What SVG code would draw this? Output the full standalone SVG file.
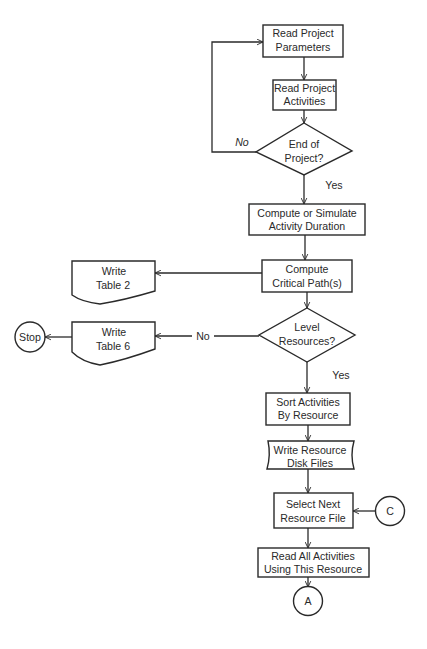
<svg xmlns="http://www.w3.org/2000/svg" width="427" height="649" viewBox="0 0 427 649">
<style>
.s{fill:#fff;stroke:#2a2a2a;stroke-width:1.4}
.c{fill:none;stroke:#2a2a2a;stroke-width:1.3}
text{font-family:"Liberation Sans","DejaVu Sans",sans-serif;font-size:10.6px;fill:#2a2a2a;text-anchor:middle}
.i{font-style:italic}
</style>
<defs>
<marker id="a" viewBox="0 0 10 10" refX="9.5" refY="5" markerWidth="7" markerHeight="7" orient="auto" markerUnits="userSpaceOnUse">
<path d="M1,1 L9.5,5 L1,9" fill="none" stroke="#2a2a2a" stroke-width="1.3"/>
</marker>
</defs>
<rect width="427" height="649" fill="#fff"/>
<g id="connectors">
<path class="c" d="M304,57 V80" marker-end="url(#a)"/>
<path class="c" d="M304,110 V123" marker-end="url(#a)"/>
<path class="c" d="M256,152 H212 V42 H263" marker-end="url(#a)"/>
<path class="c" d="M304,175 V204" marker-end="url(#a)"/>
<path class="c" d="M305,235 V260" marker-end="url(#a)"/>
<path class="c" d="M262,273 H155" marker-end="url(#a)"/>
<path class="c" d="M307,292 V308" marker-end="url(#a)"/>
<path class="c" d="M259,336 H214"/>
<path class="c" d="M192,336 H155" marker-end="url(#a)"/>
<path class="c" d="M72,337 H45" marker-end="url(#a)"/>
<path class="c" d="M307,362 V393" marker-end="url(#a)"/>
<path class="c" d="M308,425 V441" marker-end="url(#a)"/>
<path class="c" d="M308,469 V493" marker-end="url(#a)"/>
<path class="c" d="M376,511 H353" marker-end="url(#a)"/>
<path class="c" d="M308,528 V548" marker-end="url(#a)"/>
<path class="c" d="M308,577 V587" marker-end="url(#a)"/>
<text class="i" x="242" y="146">No</text>
<text x="334" y="189">Yes</text>
<text x="203" y="340">No</text>
<text x="341" y="379">Yes</text>
</g>
<g id="read-params">
<rect class="s" x="263" y="25" width="80" height="32"/>
<text x="303" y="37">Read Project</text>
<text x="303" y="51">Parameters</text>
</g>
<g id="read-activities">
<rect class="s" x="273" y="80" width="63" height="30"/>
<text x="304.5" y="92">Read Project</text>
<text x="304.5" y="105">Activities</text>
</g>
<g id="end-project">
<polygon class="s" points="304,123 352,151 304,175 256,152"/>
<text x="304" y="148">End of</text>
<text x="304" y="162">Project?</text>
</g>
<g id="compute-duration">
<rect class="s" x="249" y="204" width="116" height="31"/>
<text x="307" y="217">Compute or Simulate</text>
<text x="307" y="230">Activity Duration</text>
</g>
<g id="critical-path">
<rect class="s" x="262" y="260" width="90" height="32"/>
<text x="307" y="273">Compute</text>
<text x="307" y="287">Critical Path(s)</text>
</g>
<g id="write-table-2">
<path class="s" d="M72,261 H155 V291 Q125,300 100,304 Q82,302 72,295 Z"/>
<text x="114" y="275">Write</text>
<text x="113" y="289">Table 2</text>
</g>
<g id="level-resources">
<polygon class="s" points="307,308 355,335 307,362 259,335"/>
<text x="307" y="331">Level</text>
<text x="307" y="345">Resources?</text>
</g>
<g id="write-table-6">
<path class="s" d="M72,322 H155 V349 Q125,360 100,365 Q82,362 72,352 Z"/>
<text x="114" y="336">Write</text>
<text x="113" y="350">Table  6</text>
</g>
<g id="stop">
<circle class="s" cx="30" cy="337" r="15"/>
<text x="30" y="341">Stop</text>
</g>
<g id="sort-activities">
<rect class="s" x="266" y="393" width="84" height="32"/>
<text x="308" y="406">Sort Activities</text>
<text x="308" y="419">By Resource</text>
</g>
<g id="write-resource">
<path class="s" d="M268,441 H354 Q350,455 354,469 H267 Q271,455 268,441 Z"/>
<text x="310" y="454">Write Resource</text>
<text x="310" y="467">Disk Files</text>
</g>
<g id="select-next">
<rect class="s" x="274" y="493" width="79" height="35"/>
<text x="313" y="508">Select Next</text>
<text x="313" y="522">Resource File</text>
</g>
<g id="connector-c">
<circle class="s" cx="390" cy="511" r="14.5"/>
<text x="390" y="515">C</text>
</g>
<g id="read-all">
<rect class="s" x="258" y="548" width="111" height="29"/>
<text x="313" y="560">Read All Activities</text>
<text x="313" y="573">Using This Resource</text>
</g>
<g id="connector-a">
<circle class="s" cx="308" cy="601" r="14.5"/>
<text x="308" y="605">A</text>
</g>
</svg>
